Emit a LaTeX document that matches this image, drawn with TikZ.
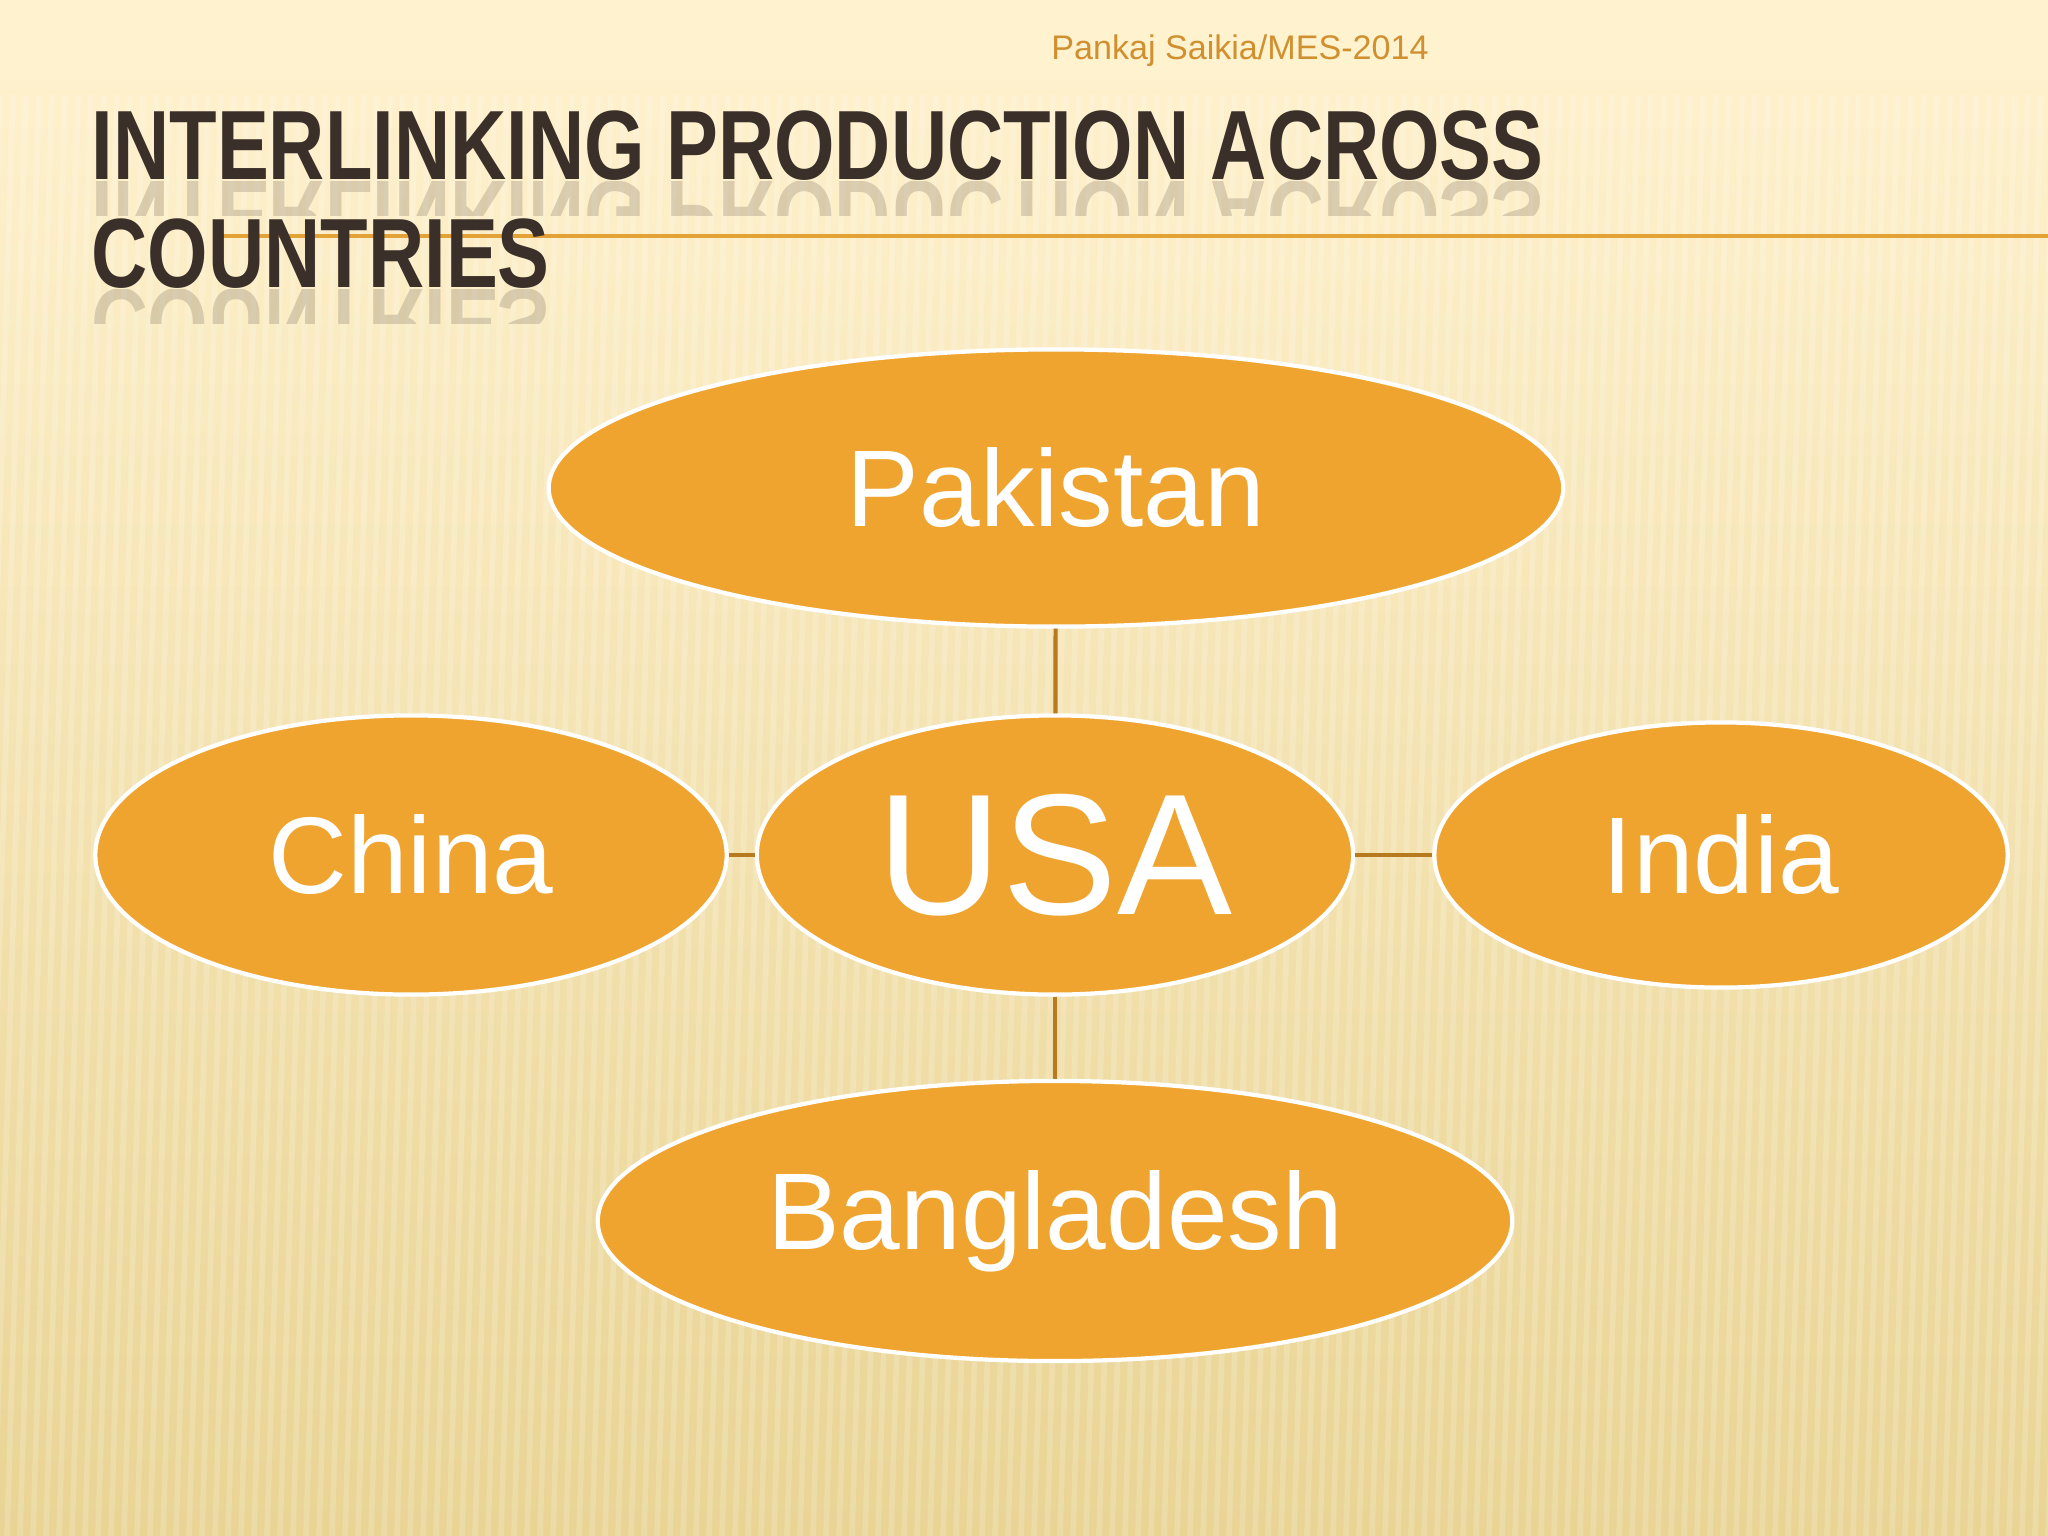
\documentclass[tikz,border=0pt]{standalone}
\usepackage{fontspec}
\setmainfont{Liberation Sans}
\usetikzlibrary{shapes.geometric}
\definecolor{bgtop}{HTML}{FFF2CF}
\definecolor{bgbottom}{HTML}{E9D494}
\definecolor{blob}{HTML}{EFA42F}
\definecolor{link}{HTML}{B87A1E}
\definecolor{rule}{HTML}{E3A235}
\definecolor{ink}{HTML}{3A3029}
\definecolor{byline}{HTML}{D09030}
\tikzset{
	country/.style = {ellipse, fill=blob, draw=white, line width=1.2pt,
		text=white, inner sep=0pt, font=\fontsize{31pt}{36pt}\selectfont},
	hub/.style = {country, font=\fontsize{49pt}{52pt}\selectfont},
	link/.style = {draw=link, line width=1.2pt},
	heading/.style = {anchor=base west, inner sep=0pt, text=ink,
		font=\fontsize{28pt}{30pt}\selectfont\bfseries},
	mirror/.style = {heading, yscale=-1, transform shape, text opacity=0.18}
}

\begin{document}
\begin{tikzpicture}[x=0.01cm, y=-0.01cm]
\useasboundingbox (0,0) rectangle (2048,1536);
% background
\shade[top color=bgtop, bottom color=bgbottom] (0,0) rectangle (2048,1536);
\fill[bgtop] (0,0) rectangle (2048,80);
\foreach \i in {0,13,...,2100}
	\draw[white, opacity=0.18, line width=1.6pt] (\i,95) -- (\i-45,1536);

% byline
\node[text=byline, font=\fontsize{9.7pt}{11pt}\selectfont] (author) at (1240,51) {Pankaj Saikia/MES-2014};

% rule under the heading
\draw[rule, line width=1.1pt] (215,236) -- (2048,236);

% heading with its reflection
\begin{scope}
\clip (80,181) rectangle (1600,215);
\node[mirror] (t1r) at (91,181) {\scalebox{0.79}[1]{INTERLINKING PRODUCTION ACROSS}};
\end{scope}
\begin{scope}
\clip (80,289) rectangle (1600,323);
\node[mirror] (t2r) at (91,289) {\scalebox{0.79}[1]{COUNTRIES}};
\end{scope}
\node[heading] (t1) at (91,179) {\scalebox{0.79}[1]{INTERLINKING PRODUCTION ACROSS}};
\node[heading] (t2) at (91,287) {\scalebox{0.79}[1]{COUNTRIES}};

% countries
\node[hub, minimum width=5.96cm, minimum height=2.79cm] (usa) at (1055,855) {USA};
\node[country, minimum width=10.14cm, minimum height=2.77cm] (pak) at (1056,488) {Pakistan};
\node[country, minimum width=6.31cm, minimum height=2.79cm] (chn) at (411,855) {China};
\node[country, minimum width=5.73cm, minimum height=2.65cm] (ind) at (1721,855) {India};
\node[country, minimum width=9.14cm, minimum height=2.80cm] (bgd) at (1055,1221) {Bangladesh};

\draw[link] (pak) -- (usa);
\draw[link] (chn) -- (usa);
\draw[link] (usa) -- (ind);
\draw[link] (usa) -- (bgd);
\end{tikzpicture}
\end{document}
